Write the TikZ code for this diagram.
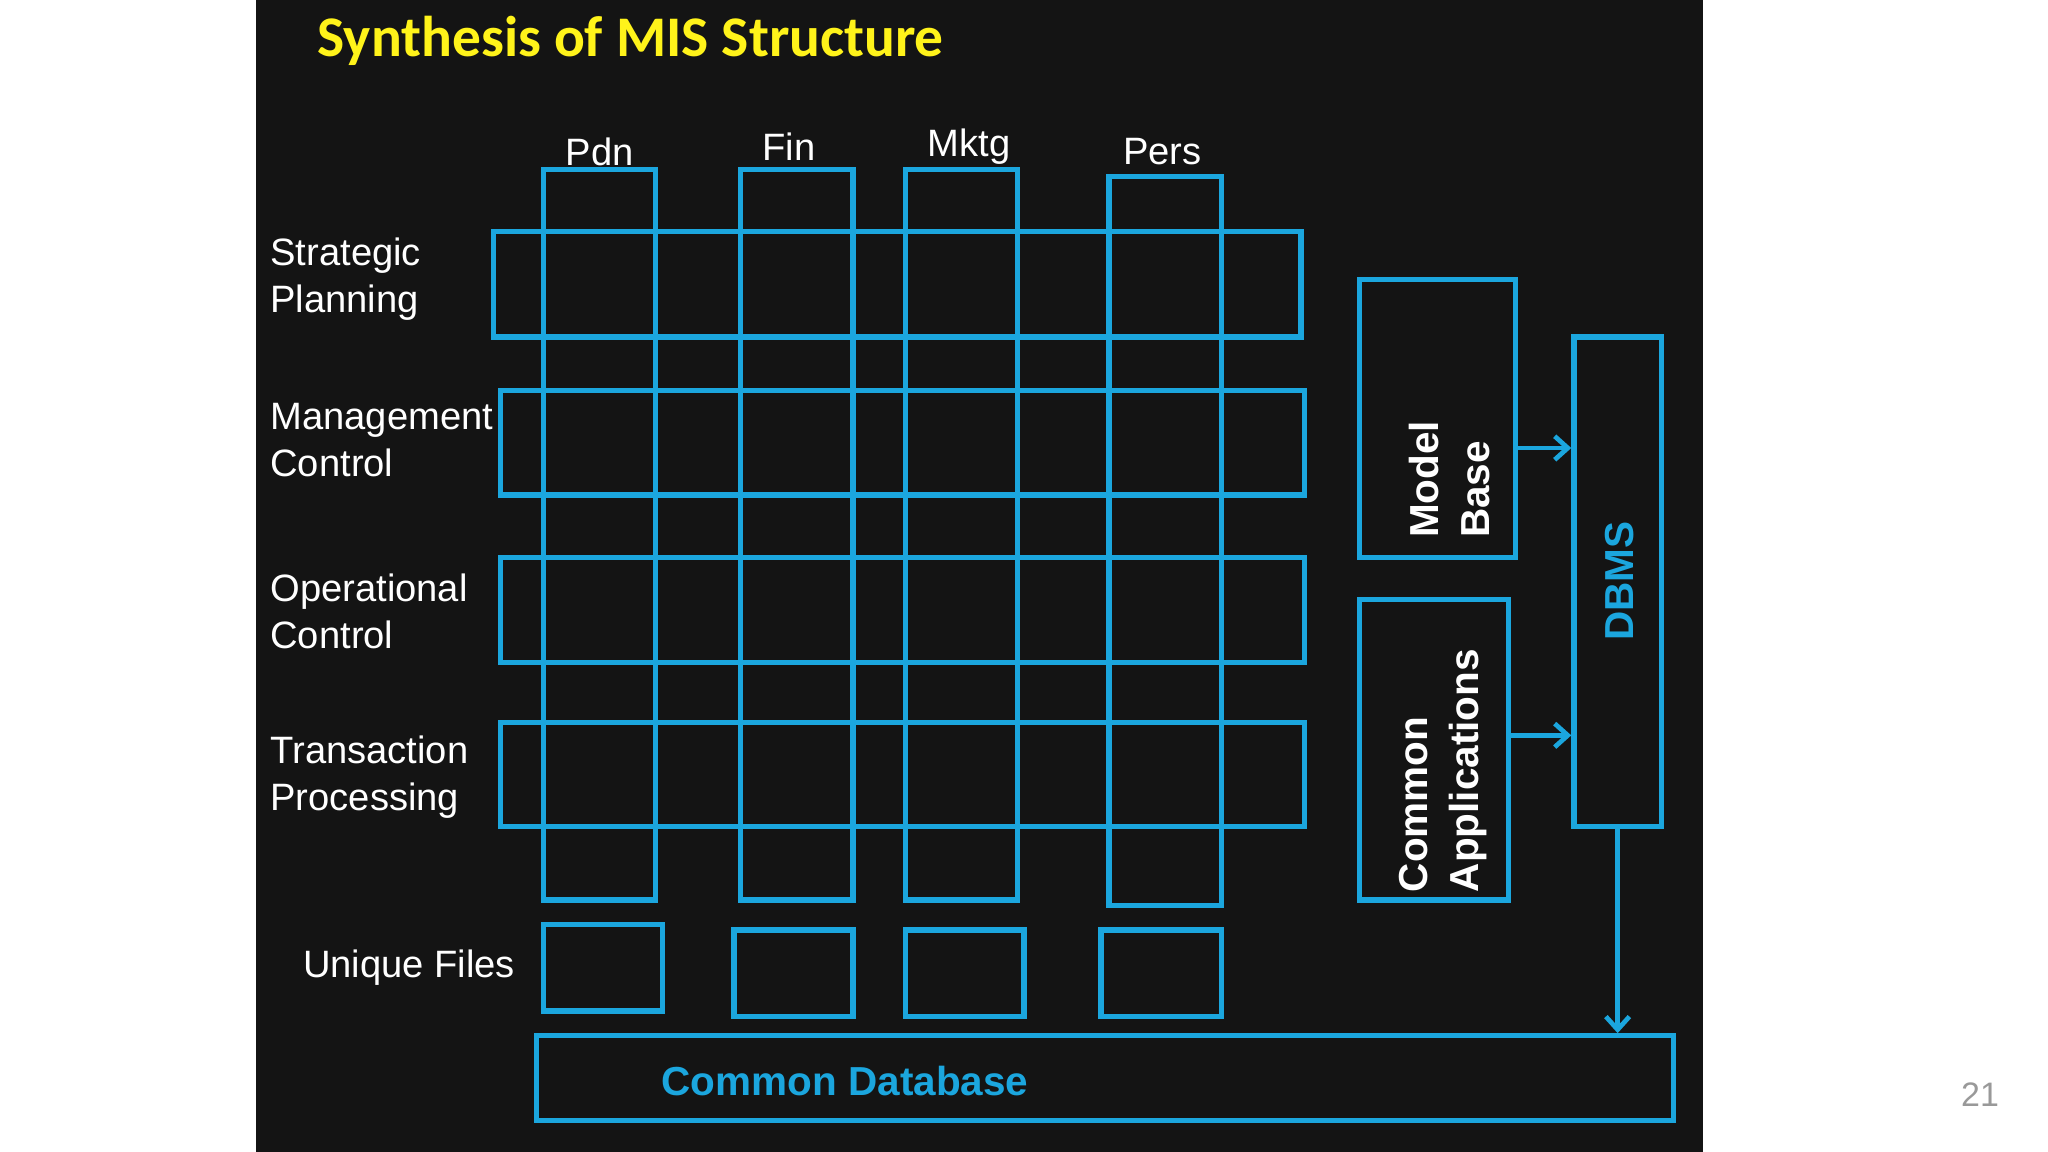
\documentclass[tikz,border=0pt]{standalone}
\usepackage{fontspec}
\setmainfont{Liberation Sans}
\newfontfamily\carl{Carlito}
\begin{document}
\begin{tikzpicture}[x=0.5pt,y=-0.5pt,
  box/.style={draw=cy,line width=2pt},
  lbl/.style={text=white,font=\fontsize{14.6}{18}\selectfont,align=left},
  arr/.style={draw=cy,line width=1.8pt,->,>={Straight Barb[length=5pt,width=9pt]}}]
\usetikzlibrary{arrows.meta}
\definecolor{cy}{HTML}{1BA6DE}
\definecolor{bg}{HTML}{141414}
\useasboundingbox (0,0) rectangle (1568,882);
\fill[white] (0,0) rectangle (1568,882);
\fill[bg] (196,0) rectangle (1304,882);
\node[text=yellow!90!white,font=\carl\bfseries\fontsize{22}{26}\selectfont,anchor=west] (title) at (236,31) {Synthesis of MIS Structure};
% columns
\draw[box] (416,130) rectangle (502,689);
\draw[box] (567,130) rectangle (653,689);
\draw[box] (693,130) rectangle (779,689);
\draw[box] (849,135) rectangle (935,693);
% rows
\draw[box] (378,177) rectangle (996,258);
\draw[box] (383,299) rectangle (999,379);
\draw[box] (383,427) rectangle (999,507);
\draw[box] (383,553) rectangle (999,633);
% unique files
\draw[box] (416,708) rectangle (507,774);
\draw[box] (562,712) rectangle (653,778);
\draw[box] (693,712) rectangle (784,778);
\draw[box] (843,712) rectangle (935,778);
% labels
\node[lbl] (pdn) at (459,116) {Pdn};
\node[lbl] (fin) at (604,112) {Fin};
\node[lbl] (mk) at (742,112) {Mktg};
\node[lbl] (pe) at (890,116) {Pers};
\node[lbl,anchor=west] (l1) at (200,214) {Strategic\\Planning};
\node[lbl,anchor=west] (l2) at (200,337) {Management\\Control};
\node[lbl,anchor=west] (l3) at (200,468) {Operational\\Control};
\node[lbl,anchor=west] (l4) at (200,595) {Transaction\\Processing};
\node[lbl,anchor=west] (uf) at (225,741) {Unique Files};
% right side
\node[box,minimum width=59.5pt,minimum height=106.5pt] (mb) at (1100.5,320.5) {};
\node[text=white,font=\bfseries\fontsize{15.5}{19.5}\selectfont,rotate=90,align=left] at (1110,367) {Model\\Base};
\node[box,minimum width=57pt,minimum height=115pt] (ca) at (1098,574) {};
\node[text=white,font=\bfseries\fontsize{15.5}{19.5}\selectfont,rotate=90,align=left] at (1105,590) {Common\\Applications};
\node[box,minimum width=33.5pt,minimum height=187.5pt] (db) at (1238.5,445.5) {};
\node[text=cy,font=\bfseries\fontsize{15.5}{19}\selectfont,rotate=90] at (1240,445) {DBMS};
\node[box,minimum width=435pt,minimum height=32.5pt] (cd) at (846,825.5) {};
\node[text=cy,font=\bfseries\fontsize{15.5}{19}\selectfont] at (647,828) {Common Database};
\draw[arr] (mb.east |- 0,343) -- (db.west |- 0,343);
\draw[arr] (ca.east |- 0,563) -- (db.west |- 0,563);
\draw[arr] (db.south) -- (db.south |- cd.north);
\node[text=gray!80,font=\fontsize{13}{15}\selectfont] (pg) at (1516,838) {21};
\end{tikzpicture}
\end{document}
